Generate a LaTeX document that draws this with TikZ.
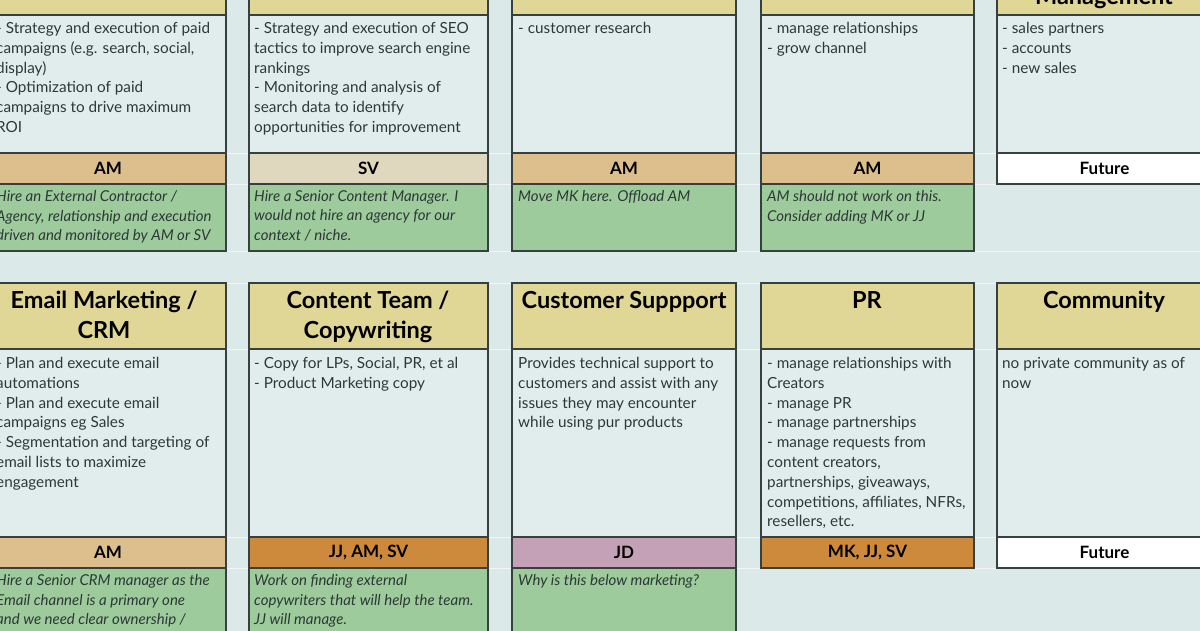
\documentclass[tikz,border=0pt]{standalone}
\usepackage{fontspec}
\setmainfont{Lato}
\definecolor{bg}{HTML}{DCE9E9}
\definecolor{cellbg}{HTML}{E1EDED}
\definecolor{hdr}{HTML}{E0D695}
\definecolor{amc}{HTML}{DDBF8E}
\definecolor{svc}{HTML}{E0D8BE}
\definecolor{orc}{HTML}{CE8A3C}
\definecolor{jdc}{HTML}{C5A1B8}
\definecolor{grn}{HTML}{9DCB9B}
\definecolor{brd}{HTML}{36403F}
\definecolor{txt}{HTML}{2E3838}
\tikzset{
 cellbox/.style={draw=brd,line width=1.4pt,anchor=north west,inner sep=0pt,outer sep=0pt},
 bodytxt/.style={anchor=north west,align=left,font=\fontsize{15.3}{19.8}\selectfont,text=txt,inner sep=0pt},
 notetxt/.style={bodytxt,font=\fontsize{15}{19.8}\selectfont\itshape},
 hdrtxt/.style={anchor=north,align=center,font=\fontsize{23.5}{29.5}\selectfont\bfseries,text=black,inner sep=0pt},
 roletxt/.style={anchor=center,font=\fontsize{17}{19}\selectfont\bfseries,text=black,inner sep=0pt},
}
\newcommand{\cellr}[6]{% name, x, y, w, h, fill
 \node[cellbox,fill=#6,minimum width=#4pt,minimum height=#5pt] (#1) at (#2pt,-#3pt) {};}
\begin{document}
\begin{tikzpicture}[x=1pt,y=1pt]
\useasboundingbox (0,0) rectangle (1200,-630);
\clip (0,0) rectangle (1200,-630);
\fill[bg] (-10,10) rectangle (1210,-640);
\foreach \yy in {153,184,251,283,349,537,568}
 \draw[white!60!bg,line width=0.8pt] (0,-\yy) -- (1200,-\yy);
\def\cA{-10}\def\wA{236}
\def\cB{249}\def\wB{239}
\def\cC{512}\def\wC{224}
\def\cD{761}\def\wD{213}
\def\cE{997}\def\wE{215}
% ---- top block
\cellr{h1}{\cA}{-30}{\wA}{45}{hdr}
\cellr{h2}{\cB}{-30}{\wB}{45}{hdr}
\cellr{h3}{\cC}{-30}{\wC}{45}{hdr}
\cellr{h4}{\cD}{-30}{\wD}{45}{hdr}
\cellr{h5}{\cE}{-30}{\wE}{45}{hdr}
\node[hdrtxt,anchor=base] (h5t) at (1104,-4) {Management};
\foreach \n/\x/\w in {1/\cA/\wA,2/\cB/\wB,3/\cC/\wC,4/\cD/\wD,5/\cE/\wE}{
 \cellr{b\n}{\x}{15}{\w}{138}{cellbg}}
\cellr{r1}{\cA}{153}{\wA}{31}{amc}
\cellr{r2}{\cB}{153}{\wB}{31}{svc}
\cellr{r3}{\cC}{153}{\wC}{31}{amc}
\cellr{r4}{\cD}{153}{\wD}{31}{amc}
\cellr{r5}{\cE}{153}{\wE}{31}{white}
\cellr{n1}{\cA}{184}{\wA}{67}{grn}
\cellr{n2}{\cB}{184}{\wB}{67}{grn}
\cellr{n3}{\cC}{184}{\wC}{67}{grn}
\cellr{n4}{\cD}{184}{\wD}{67}{grn}
\node[roletxt] at (r1.center) {AM};
\node[roletxt] at (r2.center) {SV};
\node[roletxt] at (r3.center) {AM};
\node[roletxt] at (r4.center) {AM};
\node[roletxt] at (r5.center) {Future};
\node[bodytxt] at (-4,-22) {- Strategy and execution of paid\\campaigns (e.g. search, social,\\display)\\- Optimization of paid\\campaigns to drive maximum\\ROI};
\node[bodytxt] at (254,-22) {- Strategy and execution of SEO\\tactics to improve search engine\\rankings\\- Monitoring and analysis of\\search data to identify\\opportunities for improvement};
\node[bodytxt] at (518,-22) {- customer research};
\node[bodytxt] at (767,-22) {- manage relationships\\- grow channel};
\node[bodytxt] at (1002,-22) {- sales partners\\- accounts\\- new sales};
\node[notetxt] at (-4,-190) {Hire an External Contractor /\\Agency, relationship and execution\\driven and monitored by AM or SV};
\node[notetxt] at (254,-190) {Hire a Senior Content Manager. I\\would not hire an agency for our\\context / niche.};
\node[notetxt] at (518,-190) {Move MK here. Offload AM};
\node[notetxt] at (767,-190) {AM should not work on this.\\Consider adding MK or JJ};
% ---- bottom block
\cellr{H1}{\cA}{283}{\wA}{66}{hdr}
\cellr{H2}{\cB}{283}{\wB}{66}{hdr}
\cellr{H3}{\cC}{283}{\wC}{66}{hdr}
\cellr{H4}{\cD}{283}{\wD}{66}{hdr}
\cellr{H5}{\cE}{283}{\wE}{66}{hdr}
\node[hdrtxt] at (104,-291) {Email Marketing /\\CRM};
\node[hdrtxt] at (368,-291) {Content Team /\\Copywriting};
\node[hdrtxt] at (624,-291) {Customer Suppport};
\node[hdrtxt] at (867,-291) {PR};
\node[hdrtxt] at (1104,-291) {Community};
\foreach \n/\x/\w in {1/\cA/\wA,2/\cB/\wB,3/\cC/\wC,4/\cD/\wD,5/\cE/\wE}{
 \cellr{B\n}{\x}{349}{\w}{188}{cellbg}}
\cellr{R1}{\cA}{537}{\wA}{31}{amc}
\cellr{R2}{\cB}{537}{\wB}{31}{orc}
\cellr{R3}{\cC}{537}{\wC}{31}{jdc}
\cellr{R4}{\cD}{537}{\wD}{31}{orc}
\cellr{R5}{\cE}{537}{\wE}{31}{white}
\cellr{N1}{\cA}{568}{\wA}{80}{grn}
\cellr{N2}{\cB}{568}{\wB}{80}{grn}
\cellr{N3}{\cC}{568}{\wC}{80}{grn}
\node[roletxt] at (R1.center) {AM};
\node[roletxt] at (R2.center) {JJ, AM, SV};
\node[roletxt] at (R3.center) {JD};
\node[roletxt] at (R4.center) {MK, JJ, SV};
\node[roletxt] at (R5.center) {Future};
\node[bodytxt] at (-4,-357) {- Plan and execute email\\automations\\- Plan and execute email\\campaigns eg Sales\\- Segmentation and targeting of\\email lists to maximize\\engagement};
\node[bodytxt] at (254,-357) {- Copy for LPs, Social, PR, et al\\- Product Marketing copy};
\node[bodytxt] at (518,-357) {Provides technical support to\\customers and assist with any\\issues they may encounter\\while using pur products};
\node[bodytxt] at (767,-357) {- manage relationships with\\Creators\\- manage PR\\- manage partnerships\\- manage requests from\\content creators,\\partnerships, giveaways,\\competitions, affiliates, NFRs,\\resellers, etc.};
\node[bodytxt] at (1002,-357) {no private community as of\\now};
\node[notetxt] at (-4,-574) {Hire a Senior CRM manager as the\\Email channel is a primary one\\and we need clear ownership /};
\node[notetxt] at (254,-574) {Work on finding external\\copywriters that will help the team.\\JJ will manage.};
\node[notetxt] at (518,-574) {Why is this below marketing?};
\end{tikzpicture}
\end{document}
